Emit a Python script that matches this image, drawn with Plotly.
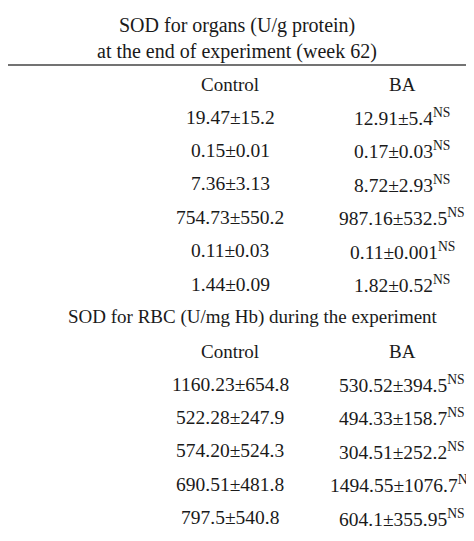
import plotly.graph_objects as go

organs = ["Liver", "Heart", "Brain", "Kidney", "Adipose tissue", "Muscles"]
organ_control = ["19.47±15.2", "0.15±0.01", "7.36±3.13", "754.73±550.2", "0.11±0.03", "1.44±0.09"]
organ_ba = ["12.91±5.4", "0.17±0.03", "8.72±2.93", "987.16±532.5", "0.11±0.001", "1.82±0.52"]
times = ["T21W", "T27W", "T31W", "T45W", "T62W"]
rbc_control = ["1160.23±654.8", "522.28±247.9", "574.20±524.3", "690.51±481.8", "797.5±540.8"]
rbc_ba = ["530.52±394.5", "494.33±158.7", "304.51±252.2", "1494.55±1076.7", "604.1±355.95"]
sig = "NS"

W, H = 474, 541
FONT = "Liberation Serif"
fig = go.Figure()
ann = []
OFF = 8

def txt(x, y, s, size=19, anchor="center"):
    ann.append(dict(x=x - OFF, y=y, text=s, showarrow=False, xanchor=anchor, yanchor="middle",
                    font=dict(family=FONT, size=size, color="#1a1a1a"), xref="x", yref="y"))

XC, XB, XL = 230, 402, -2
txt(237, 17, "SOD for organs (U/g protein)", 20)
txt(237, 43, "at the end of experiment (week 62)", 20)
row = 33.4
txt(XL, 76, "Organs", 19, "left"); txt(XC, 76, "Control", 19); txt(XB, 76, "BA", 19)
for i, (o, c, b) in enumerate(zip(organs, organ_control, organ_ba)):
    y = 109 + i * row
    txt(XL, y, o, 22 if i < 4 else 21, "left")
    txt(XC, y, c, 19.5)
    txt(XB, y, f"{b}<sup>{sig}</sup>", 19.5)
txt(253, 309, "SOD for RBC (U/mg Hb) during the experiment", 19)
txt(XL, 343, "Times", 19, "left"); txt(XC, 343, "Control", 19); txt(XB, 343, "BA", 19)
for i, (t, c, b) in enumerate(zip(times, rbc_control, rbc_ba)):
    y = 376 + i * row
    txt(XL, y, t, 21, "left")
    txt(XC, y, c, 19.5)
    txt(XB, y, f"{b}<sup>{sig}</sup>", 19.5)

fig.update_layout(
    width=W, height=H, margin=dict(l=0, r=0, t=0, b=0),
    paper_bgcolor="white", plot_bgcolor="white",
    xaxis=dict(range=[0, W], visible=False, fixedrange=True),
    yaxis=dict(range=[H, 0], visible=False, fixedrange=True),
    annotations=ann,
    shapes=[dict(type="line", x0=-OFF, x1=W, y0=57, y1=57, xref="x", yref="y",
                 line=dict(color="#444", width=1.5))],
    showlegend=False,
)
fig.write_html("out.html", config={"displayModeBar": False})
